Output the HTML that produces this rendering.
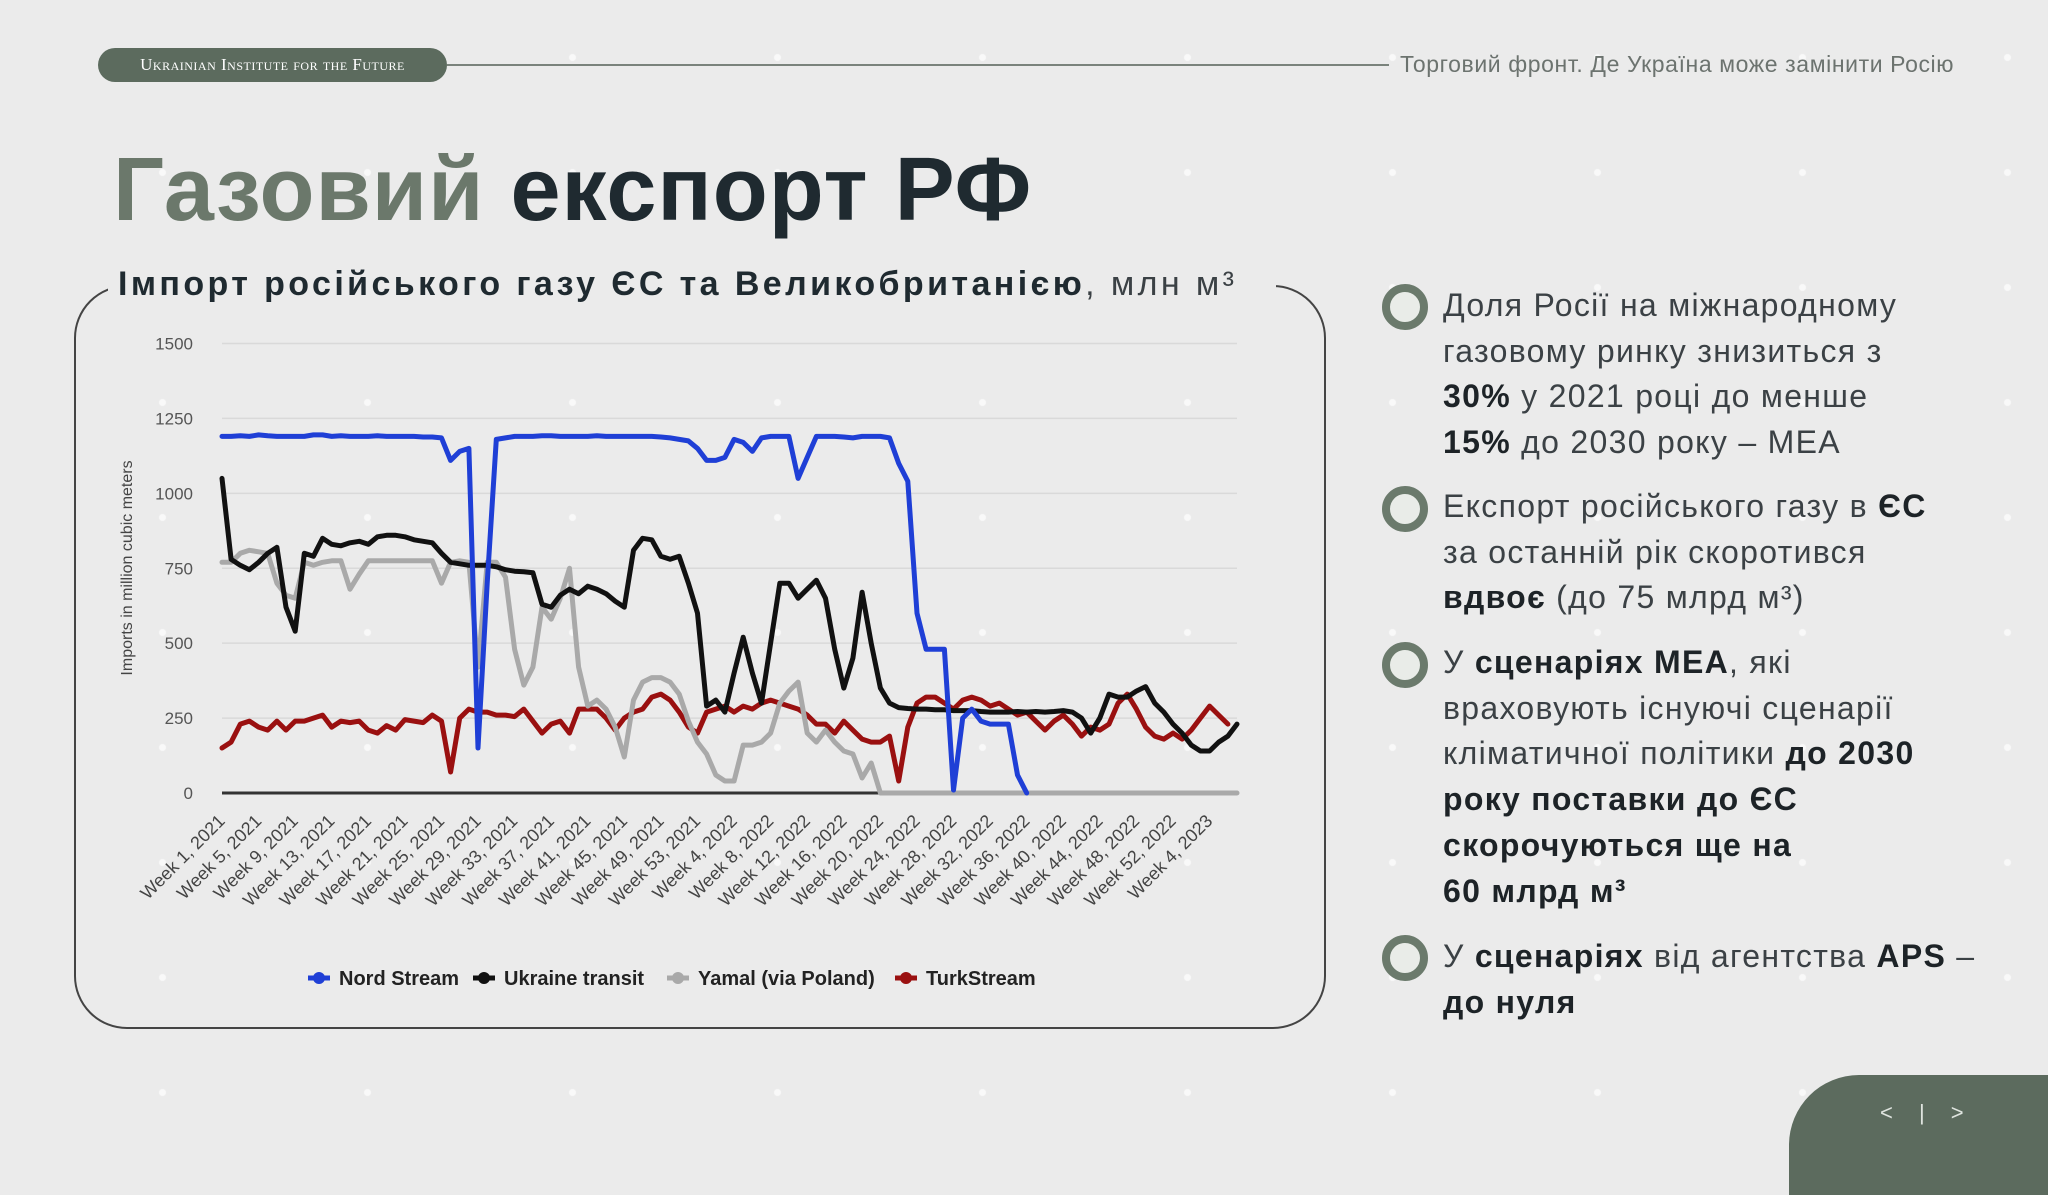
<!DOCTYPE html>
<html><head><meta charset="utf-8">
<style>
html,body{margin:0;padding:0}
body{width:2048px;height:1152px;position:relative;overflow:hidden;background:#ebebeb;font-family:"Liberation Sans",sans-serif;
background-image:radial-gradient(circle,rgba(255,255,255,0.7) 0 3px,transparent 4px);background-size:205px 115px;background-position:60px 0px}
.abs{position:absolute}
#pill{left:98px;top:48px;width:349px;height:34px;border-radius:17px;background:#5c6b5e;color:#fff;font-family:"Liberation Serif",serif;font-size:17px;letter-spacing:0.5px;line-height:34px;text-align:center;font-variant:small-caps}
#hline{left:447px;top:64px;width:942px;height:2px;background:#7a837c}
#hright{left:1400px;top:51px;font-size:23px;letter-spacing:0.6px;color:#6c736f;white-space:nowrap}
#title{left:113px;top:145px;font-size:90px;font-weight:bold;white-space:nowrap;letter-spacing:1px;line-height:1}
.bul{position:absolute;left:1443px;font-size:32px;line-height:45.7px;color:#3b4145;white-space:nowrap;letter-spacing:1.3px}
.bul b{color:#1d2327}
.ring{position:absolute;left:1382px;width:30px;height:30px;border:8px solid #6b7a6c;border-radius:50%;background:#e9ece8}
#tab{left:1789px;top:1075px;width:300px;height:120px;background:#5c6b5e;border-top-left-radius:70px}
#nav{left:1880px;top:1100px;color:#dfe4df;font-size:22px;letter-spacing:10px}
</style></head><body>
<div id="pill" class="abs">Ukrainian Institute for the Future</div>
<div id="hline" class="abs"></div>
<div id="hright" class="abs">Торговий фронт. Де Україна може замінити Росію</div>
<div id="title" class="abs"><span style="color:#6b786b">Газовий</span> <span style="color:#1f2a30">експорт РФ</span></div>

<svg class="abs" style="left:0;top:0" width="2048" height="1152">
<rect x="75" y="286" width="1250" height="742" rx="52" fill="none" stroke="#444" stroke-width="2"/>
<rect x="108" y="262" width="1168" height="48" fill="#ebebeb"/>
<text x="118" y="295" font-size="34" font-weight="bold" letter-spacing="3.4" fill="#1f2a30">Імпорт російського газу  ЄС та Великобританією<tspan font-weight="normal" fill="#3b4145">, млн м³</tspan></text>
<g id="grid"></g><g id="ylab"></g><g id="xlab"></g><g id="lines"></g>
<text transform="translate(132,568) rotate(-90)" text-anchor="middle" font-size="16" fill="#444">Imports in million cubic meters</text>
<g id="legend" font-size="20" fill="#222" font-weight="bold"></g>
</svg>

<div class="ring" style="top:284px"></div>
<div class="bul" style="top:283px">Доля Росії на міжнародному<br>газовому ринку знизиться з<br><b>30%</b> у 2021 році до менше<br><b>15%</b> до 2030 року – МЕА</div>
<div class="ring" style="top:486px"></div>
<div class="bul" style="top:484px">Експорт російського газу в <b>ЄС</b><br>за останній рік скоротився<br><b>вдвоє</b> (до 75 млрд м³)</div>
<div class="ring" style="top:642px"></div>
<div class="bul" style="top:640px">У <b>сценаріях МЕА</b>, які<br>враховують існуючі сценарії<br>кліматичної політики <b>до 2030</b><br><b>року поставки до ЄС</b><br><b>скорочуються ще на</b><br><b>60 млрд м³</b></div>
<div class="ring" style="top:935px"></div>
<div class="bul" style="top:934px">У <b>сценаріях</b> від агентства <b>APS</b> –<br><b>до нуля</b></div>

<div id="tab" class="abs"></div>
<div id="nav" class="abs">&lt; | &gt;</div>

<script>
const yTicks=[0,250,500,750,1000,1250,1500];
const xTickLabels=["Week 1, 2021","Week 5, 2021","Week 9, 2021","Week 13, 2021","Week 17, 2021","Week 21, 2021","Week 25, 2021","Week 29, 2021","Week 33, 2021","Week 37, 2021","Week 41, 2021","Week 45, 2021","Week 49, 2021","Week 53, 2021","Week 4, 2022","Week 8, 2022","Week 12, 2022","Week 16, 2022","Week 20, 2022","Week 24, 2022","Week 28, 2022","Week 32, 2022","Week 36, 2022","Week 40, 2022","Week 44, 2022","Week 48, 2022","Week 52, 2022","Week 4, 2023"];
const xTickIndex=[0,4,8,12,16,20,24,28,32,36,40,44,48,52,56,60,64,68,72,76,80,84,88,92,96,100,104,108];
const seriesNames=["Nord Stream","Ukraine transit","Yamal (via Poland)","TurkStream"];
const seriesColors=["#1f3fd6","#111111","#a9a9a9","#9a1010"];
const nordStream=[1190,1190,1192,1190,1195,1192,1190,1190,1190,1190,1195,1195,1190,1192,1190,1190,1190,1192,1190,1190,1190,1190,1188,1188,1185,1110,1140,1150,150,700,1180,1185,1190,1190,1190,1192,1192,1190,1190,1190,1190,1192,1190,1190,1190,1190,1190,1190,1188,1185,1180,1175,1150,1110,1110,1120,1180,1170,1140,1185,1190,1190,1190,1050,1120,1190,1190,1190,1188,1185,1190,1190,1190,1185,1100,1040,600,480,480,480,10,250,280,240,230,230,230,60,0,null,null,null,null,null,null,null,null,null,null,null,null,null,null,null,null,null,null,null,null,null,null,null];
const ukraineTransit=[1050,780,760,745,770,800,820,620,540,800,790,850,830,825,835,840,830,855,860,860,855,845,840,835,800,770,765,760,760,760,755,745,740,738,735,630,620,660,680,665,690,680,665,640,620,810,850,845,790,780,790,700,600,290,310,270,400,520,400,300,500,700,700,650,680,710,650,480,350,450,670,500,350,300,285,282,280,280,278,278,275,275,275,272,270,270,270,272,270,272,270,272,275,270,250,200,250,330,320,320,340,355,300,270,230,200,160,140,140,170,190,230];
const yamal=[770,770,800,810,805,800,700,660,650,770,760,770,775,775,680,730,775,775,775,775,775,775,775,775,700,770,775,770,420,770,770,720,480,360,420,620,580,650,750,420,290,310,280,220,120,310,370,385,385,370,330,240,170,130,60,40,40,160,160,170,200,300,340,370,200,170,210,170,140,130,50,100,0,0,0,0,0,0,0,0,0,0,0,0,0,0,0,0,0,0,0,0,0,0,0,0,0,0,0,0,0,0,0,0,0,0,0,0,0,0,0,0];
const turkStream=[150,170,230,240,220,210,240,210,240,240,250,260,220,240,235,240,210,200,225,210,245,240,235,260,240,70,250,280,270,270,260,260,255,280,240,200,230,240,200,280,280,280,250,210,250,270,280,320,330,310,270,220,200,270,280,290,270,290,280,300,310,300,290,280,260,230,230,200,240,210,180,170,170,190,40,220,300,320,320,300,280,310,320,310,290,300,280,260,270,240,210,240,260,230,190,220,210,230,300,330,280,220,190,180,200,180,210,250,290,260,230];
const NS="http://www.w3.org/2000/svg";
const X0=222,X1=1237,Y0=793,Y1=343.5,N=112;
function xs(i){return X0+i*(X1-X0)/(N-1);}
function ys(v){return Y0-(v/1500)*(Y0-Y1);}
function mk(t,a,p){const e=document.createElementNS(NS,t);for(const k in a)e.setAttribute(k,a[k]);p.appendChild(e);return e;}
const grid=document.getElementById('grid'),ylab=document.getElementById('ylab'),xlab=document.getElementById('xlab'),lines=document.getElementById('lines'),legend=document.getElementById('legend');
yTicks.forEach(v=>{
 const l=mk('line',{x1:X0,x2:X1,y1:ys(v),y2:ys(v),stroke:v===0?'#333':'#d9d9d9','stroke-width':v===0?3:1.5},grid);
 
 
 const t=mk('text',{x:193,y:ys(v)+6,'text-anchor':'end','font-size':17,fill:'#555'},ylab);
 t.textContent=v;
 
 
});
xTickLabels.forEach((s,k)=>{
 const x=xs(xTickIndex[k])+4,y=822;
 const t=mk('text',{x:x,y:y,'text-anchor':'end','font-size':18,fill:'#444',transform:`rotate(-45 ${x} ${y})`},xlab);
 t.textContent=s;
 
 
});
[nordStream,ukraineTransit,yamal,turkStream].map((d,si)=>({d,si})).reverse().forEach(({d,si})=>{
 let path='',pen=false;
 d.forEach((v,i)=>{if(v===null){pen=false;return;}path+=(pen?'L':'M')+xs(i).toFixed(1)+' '+ys(v).toFixed(1);pen=true;});
 const p=mk('path',{d:path,fill:'none',stroke:seriesColors[si],'stroke-width':5,'stroke-linejoin':'round','stroke-linecap':'round'},lines);
 
 
});
const legX=[308,473,667,895];
seriesNames.forEach((s,i)=>{
 const g=mk('g',{},legend);
 
 
 mk('line',{x1:legX[i],x2:legX[i]+22,y1:978,y2:978,stroke:seriesColors[i],'stroke-width':5},g);
 mk('circle',{cx:legX[i]+11,cy:978,r:6,fill:seriesColors[i]},g);
 const t=mk('text',{x:legX[i]+31,y:985,'font-size':20},g);
 t.textContent=s;
});
</script>
</body></html>
